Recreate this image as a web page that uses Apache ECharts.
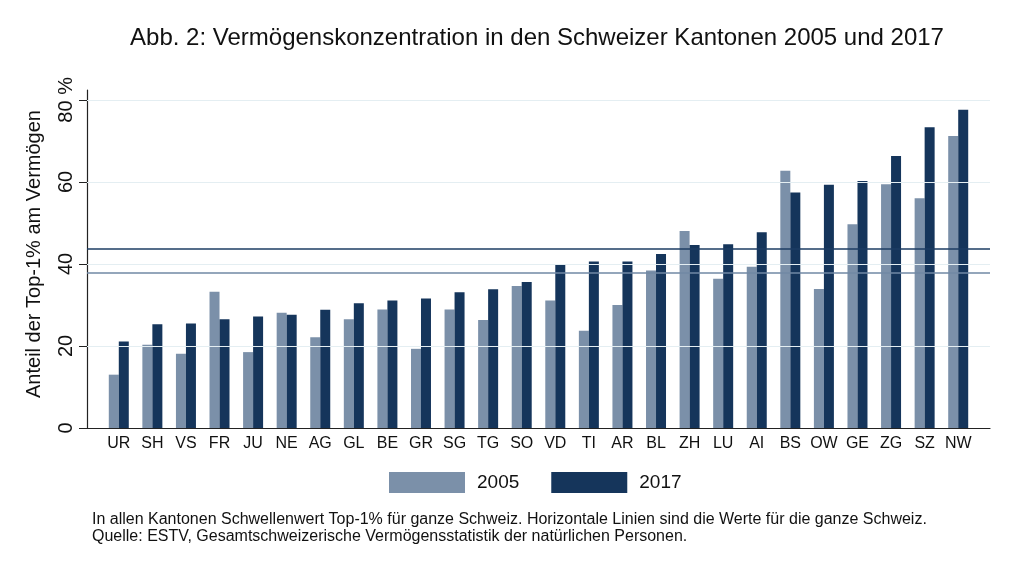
<!DOCTYPE html>
<html>
<head>
<meta charset="utf-8">
<script src="https://cdn.jsdelivr.net/npm/echarts@6/dist/echarts.min.js"></script>
<style>
html,body{margin:0;padding:0;background:#fff;}
#c{width:1024px;height:572px;}
</style>
</head>
<body>
<div id="c"></div>
<script>
const cantons = ['UR','SH','VS','FR','JU','NE','AG','GL','BE','GR','SG','TG','SO','VD','TI','AR','BL','ZH','LU','AI','BS','OW','GE','ZG','SZ','NW'];
const v2005 = [13.0,20.3,18.1,33.2,18.5,28.1,22.1,26.5,28.9,19.3,28.9,26.3,34.6,31.1,23.7,30.0,38.4,48.0,36.4,39.3,62.7,33.9,49.7,59.4,56.0,71.2];
const v2017 = [21.1,25.3,25.5,26.5,27.2,27.6,28.8,30.4,31.1,31.6,33.1,33.8,35.6,39.9,40.6,40.6,42.4,44.6,44.8,47.7,57.4,59.3,60.2,66.3,73.3,77.6];
const swiss2005 = 37.8;
const swiss2017 = 43.6;
const gridValues = [20,40,60,80];
const yTickLabels = {0:'0',20:'20',40:'40',60:'60',80:'80 %'};

const FONT = 'Liberation Sans, Arial, Helvetica, sans-serif';
const C05 = '#7b90a9';
const C17 = '#15355b';
const YMAX = 82.4;

const chart = echarts.init(document.getElementById('c'));
chart.setOption({
  animation: false,
  backgroundColor: '#fff',
  textStyle: {fontFamily: FONT},
  legend: {
    data: ['2005','2017'],
    top: 467, left: 384,
    itemWidth: 76, itemHeight: 21, itemGap: 32,
    icon: 'rect',
    textStyle: {fontFamily: FONT, fontSize: 19, color: '#111', padding: [0,0,0,7]}
  },
  grid: [
    {left: 87, right: 34, top: 90, bottom: 144},
    {left: 102, right: 49, top: 90, bottom: 144}
  ],
  xAxis: [
    {type: 'value', gridIndex: 0, min: 0, max: 1, axisLine: {show: true, lineStyle: {color: '#222', width: 1.2}},
     axisTick: {show: false}, axisLabel: {show: false}, splitLine: {show: false}},
    {type: 'category', gridIndex: 1, data: cantons, axisLine: {show: false}, axisTick: {show: false},
     axisLabel: {fontFamily: FONT, fontSize: 16, color: '#111', margin: 8, interval: 0}}
  ],
  yAxis: [
    {type: 'value', gridIndex: 0, min: 0, max: YMAX, interval: 20,
     axisLine: {show: true, lineStyle: {color: '#222', width: 1.2}},
     axisTick: {show: true, length: 8, lineStyle: {color: '#222'}},
     axisLabel: {rotate: 90, fontFamily: FONT, fontSize: 20, color: '#111', margin: 11, showMaxLabel: false,
       formatter: v => (yTickLabels[v] !== undefined ? yTickLabels[v] : '')},
     splitLine: {show: false}},
    {type: 'value', gridIndex: 1, min: 0, max: YMAX, show: false, splitLine: {show: false}}
  ],
  graphic: [
    {type: 'text', x: 537, y: 38,
     style: {text: 'Abb. 2: Vermögenskonzentration in den Schweizer Kantonen 2005 und 2017',
       font: '24px ' + FONT, fill: '#111', align: 'center', verticalAlign: 'middle'}},
    {type: 'text', x: 34, y: 254, rotation: Math.PI/2,
     style: {text: 'Anteil der Top-1% am Vermögen', font: '20px ' + FONT, fill: '#111', align: 'center', verticalAlign: 'middle'}},
    {type: 'text', left: 92, top: 511,
     style: {text: 'In allen Kantonen Schwellenwert Top-1% für ganze Schweiz. Horizontale Linien sind die Werte für die ganze Schweiz.\nQuelle: ESTV, Gesamtschweizerische Vermögensstatistik der natürlichen Personen.',
       font: '16px ' + FONT, fill: '#111', lineHeight: 17}}
  ],
  series: [
    {type: 'line', xAxisIndex: 0, yAxisIndex: 0, data: [], silent: true,
     markLine: {symbol: 'none', silent: true, label: {show: false},
       data: gridValues.map(v => ({yAxis: v, lineStyle: {color: '#e4eef2', width: 1.2, type: 'solid'}}))
         .concat([
           {yAxis: swiss2005, lineStyle: {color: '#7189a5', width: 1.6, type: 'solid'}},
           {yAxis: swiss2017, lineStyle: {color: '#1d3d63', width: 1.6, type: 'solid'}}
         ])}},
    {name: '2005', type: 'bar', xAxisIndex: 1, yAxisIndex: 1, data: v2005, barWidth: 10, barGap: '0%',
     itemStyle: {color: C05}, z: 3},
    {name: '2017', type: 'bar', xAxisIndex: 1, yAxisIndex: 1, data: v2017, barWidth: 10, barGap: '0%',
     itemStyle: {color: C17}, z: 3}
  ]
});
</script>
</body>
</html>
